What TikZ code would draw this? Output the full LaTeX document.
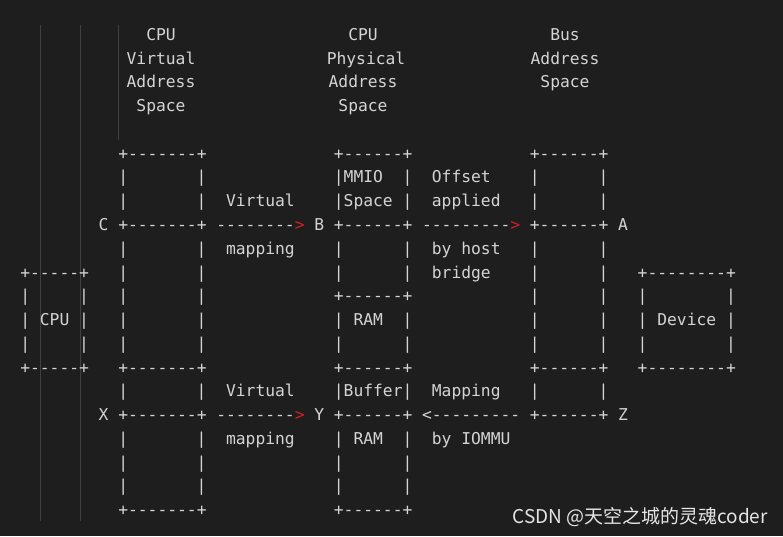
\documentclass[tikz,border=0pt]{standalone}
\usepackage{fontspec}
\setmonofont{DejaVu Sans Mono}
\newfontfamily\cjkf{Noto Sans CJK SC}
\definecolor{bg}{HTML}{1E1E1E}
\definecolor{fg}{HTML}{D4D4D4}
\definecolor{arr}{HTML}{D42020}
\definecolor{guide}{HTML}{404040}
\tikzset{tok/.style={inner sep=0pt,text=fg,font=\ttfamily\fontsize{16.3}{18}\selectfont}}
\newcommand\tk[3]{\node[tok,anchor=base west] at ({25+9.8*#1-4.9},{536-35-23.75*#2-5.5}) {#3};}
\newcommand\ctk[3]{\node[tok,anchor=base] at (#1,{536-35-23.75*#2-5.5}) {#3};}
\newcommand\sides[3]{\tk{#1}{#3}{|}\tk{#2}{#3}{|}}
\begin{document}
\begin{tikzpicture}[x=1pt,y=1pt]
\fill[bg] (0,0) rectangle (783,536);
\useasboundingbox (0,0) rectangle (783,536);
\draw[guide,line width=1pt] (40,{536-25}) -- (40,{536-521});
\draw[guide,line width=1pt] (80,{536-25}) -- (80,{536-521});
\draw[guide,line width=1pt] (118,{536-25}) -- (118,{536-140});
% headings
\ctk{161}{0}{CPU}\ctk{161}{1}{Virtual}\ctk{161}{2}{Address}\ctk{161}{3}{Space}
\ctk{363}{0}{CPU}\ctk{366}{1}{Physical}\ctk{363}{2}{Address}\ctk{363}{3}{Space}
\ctk{565}{0}{Bus}\ctk{565}{1}{Address}\ctk{565}{2}{Space}
% row 5
\tk{10}{5}{+-------+}\tk{32}{5}{+------+}\tk{52}{5}{+------+}
% row 6
\sides{10}{18}{6}\tk{32}{6}{|MMIO~~|}\tk{42}{6}{Offset}\sides{52}{59}{6}
% row 7
\sides{10}{18}{7}\tk{21}{7}{Virtual}\tk{32}{7}{|Space~|}\tk{42}{7}{applied}\sides{52}{59}{7}
% row 8
\tk{8}{8}{C}\tk{10}{8}{+-------+}\tk{20}{8}{--------\textcolor{arr}{>}}\tk{30}{8}{B}
\tk{32}{8}{+------+}\tk{41}{8}{---------\textcolor{arr}{>}}\tk{52}{8}{+------+}\tk{61}{8}{A}
% row 9
\sides{10}{18}{9}\tk{21}{9}{mapping}\sides{32}{39}{9}\tk{42}{9}{by host}\sides{52}{59}{9}
% row 10
\tk{0}{10}{+-----+}\sides{10}{18}{10}\sides{32}{39}{10}\tk{42}{10}{bridge}\sides{52}{59}{10}\tk{63}{10}{+--------+}
% row 11
\tk{0}{11}{|~~~~~|}\sides{10}{18}{11}\tk{32}{11}{+------+}\sides{52}{59}{11}\tk{63}{11}{|~~~~~~~~|}
% row 12
\tk{0}{12}{|~CPU~|}\sides{10}{18}{12}\tk{32}{12}{|~RAM~~|}\sides{52}{59}{12}\tk{63}{12}{|~Device~|}
% row 13
\tk{0}{13}{|~~~~~|}\sides{10}{18}{13}\sides{32}{39}{13}\sides{52}{59}{13}\tk{63}{13}{|~~~~~~~~|}
% row 14
\tk{0}{14}{+-----+}\tk{10}{14}{+-------+}\tk{32}{14}{+------+}\tk{52}{14}{+------+}\tk{63}{14}{+--------+}
% row 15
\sides{10}{18}{15}\tk{21}{15}{Virtual}\tk{32}{15}{|Buffer|}\tk{42}{15}{Mapping}\sides{52}{59}{15}
% row 16
\tk{8}{16}{X}\tk{10}{16}{+-------+}\tk{20}{16}{--------\textcolor{arr}{>}}\tk{30}{16}{Y}
\tk{32}{16}{+------+}\tk{41}{16}{<---------}\tk{52}{16}{+------+}\tk{61}{16}{Z}
% row 17
\sides{10}{18}{17}\tk{21}{17}{mapping}\tk{32}{17}{|~RAM~~|}\tk{42}{17}{by IOMMU}
% rows 18-19
\sides{10}{18}{18}\sides{32}{39}{18}
\sides{10}{18}{19}\sides{32}{39}{19}
% row 20
\tk{10}{20}{+-------+}\tk{32}{20}{+------+}
% watermark
\node[anchor=east,inner sep=0pt,text=white!90!black,font=\cjkf\fontsize{19}{21}\selectfont] (wm) at (768,{536-517}) {CSDN @天空之城的灵魂coder};
\end{tikzpicture}
\end{document}
